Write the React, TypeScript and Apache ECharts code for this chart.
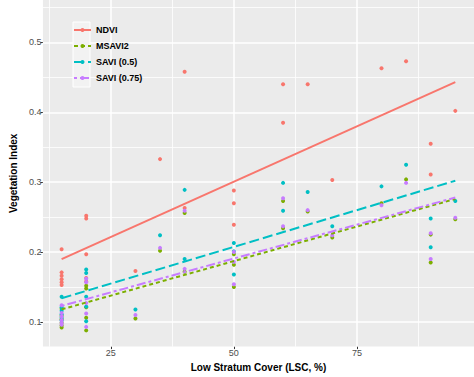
import React, { useEffect, useRef } from "react";
import * as echarts from "echarts";

const seriesNames = ["NDVI", "MSAVI2", "SAVI (0.5)", "SAVI (0.75)"];
const seriesColors = ["#F8766D", "#7CAE00", "#00BFC4", "#C77CFF"];

// Low stratum cover (%) of each site
const lsc = [
  15, 15, 15, 15, 15, 15,
  20, 20, 20, 20, 20,
  30, 35, 40, 40,
  50, 50, 50,
  60, 60, 65, 70, 80, 85, 90, 90, 95,
];
const ndvi = [
  0.204, 0.171, 0.166, 0.161, 0.157, 0.153,
  0.252, 0.248, 0.197, 0.163, 0.158,
  0.173, 0.333, 0.458, 0.263,
  0.288, 0.27, 0.239,
  0.44, 0.385, 0.44, 0.303, 0.463, 0.473, 0.355, 0.311, 0.402,
];
const msavi2 = [
  0.119, 0.109, 0.104, 0.099, 0.095, 0.092,
  0.152, 0.148, 0.121, 0.106, 0.088,
  0.105, 0.202, 0.256, 0.172,
  0.197, 0.182, 0.15,
  0.273, 0.234, 0.258, 0.221, 0.27, 0.304, 0.225, 0.185, 0.247,
];
const savi05 = [
  0.136, 0.121, 0.116, 0.111, 0.106, 0.102,
  0.175, 0.17, 0.136, 0.122, 0.101,
  0.118, 0.224, 0.289, 0.19,
  0.213, 0.201, 0.168,
  0.299, 0.259, 0.286, 0.237, 0.294, 0.325, 0.248, 0.207, 0.273,
];
const savi075 = [
  0.124, 0.113, 0.108, 0.103, 0.099, 0.096,
  0.162, 0.157, 0.127, 0.112, 0.093,
  0.11, 0.206, 0.259, 0.176,
  0.2, 0.186, 0.154,
  0.277, 0.237, 0.26, 0.224, 0.267, 0.299, 0.227, 0.19, 0.249,
];

// Linear fits (end points)
const fitX = [15, 95];
const ndviFit = [0.19, 0.443];
const msavi2Fit = [0.118, 0.276];
const savi05Fit = [0.134, 0.302];
const savi075Fit = [0.123, 0.278];

// Axes
const xMin = 11.2;
const xMax = 98.8;
const yMin = 0.0648;
const yMax = 0.5606;
const xTicks = [25, 50, 75];
const xMinor = [12.5, 37.5, 62.5, 87.5];
const yTicks = [0.1, 0.2, 0.3, 0.4, 0.5];
const yMinor = [0.15, 0.25, 0.35, 0.45, 0.55];

const FONT = "'Liberation Sans', Arial, sans-serif";

export default function App() {
  const ref = useRef<HTMLDivElement>(null);

  useEffect(() => {
    if (!ref.current) return;
    const chart = echarts.init(ref.current, undefined, { renderer: "svg" });

    const pointValues = [ndvi, msavi2, savi05, savi075];
    const fitValues = [ndviFit, msavi2Fit, savi05Fit, savi075Fit];
    const dashTypes: any[] = ["solid", [4, 3], [10, 4], [3, 3, 9, 3]];

    const lineSeries = seriesNames.map((name, i) => ({
      type: "line",
      name,
      data: fitX.map((x, k) => [x, fitValues[i][k]]),
      symbol: "none",
      z: 4,
      silent: true,
      lineStyle: { color: seriesColors[i], width: 2, type: dashTypes[i] },
      itemStyle: { color: seriesColors[i] },
    }));

    const scatterSeries = seriesNames.map((name, i) => ({
      type: "scatter",
      name,
      data: lsc.map((x, k) => [x, pointValues[i][k]]),
      symbolSize: 4,
      z: 3,
      silent: true,
      itemStyle: { color: seriesColors[i], opacity: 1 },
    }));

    const gridLineData = [
      ...xTicks.map((v) => ({ xAxis: v, lineStyle: { width: 1.5 } })),
      ...xMinor.map((v) => ({ xAxis: v, lineStyle: { width: 0.8 } })),
      ...yTicks.map((v) => ({ yAxis: v, lineStyle: { width: 1.5 } })),
      ...yMinor.map((v) => ({ yAxis: v, lineStyle: { width: 0.8 } })),
    ];

    const gridSeries = {
      type: "scatter",
      name: "grid",
      data: [],
      silent: true,
      z: 1,
      markLine: {
        z: 1,
        silent: true,
        symbol: ["none", "none"],
        label: { show: false },
        lineStyle: { color: "#FFFFFF", type: "solid" },
        emphasis: { disabled: true },
        data: gridLineData,
      },
    };

    chart.setOption({
      animation: false,
      textStyle: { fontFamily: FONT },
      grid: {
        left: 30,
        right: 0,
        top: 0,
        bottom: 25,
        show: true,
        backgroundColor: "#EBEBEB",
        borderWidth: 0,
      },
      legend: {
        orient: "vertical",
        left: 73,
        top: 24,
        padding: 0,
        itemWidth: 17,
        itemHeight: 5,
        itemGap: 4,
        selectedMode: false,
        data: seriesNames,
        textStyle: {
          fontFamily: FONT,
          fontSize: 9,
          fontWeight: "bold",
          color: "#000000",
          lineHeight: 12,
        },
      },
      graphic: [
        {
          type: "rect",
          z: 3,
          shape: { x: 73, y: 22, width: 17, height: 65 },
          style: { fill: "#F2F2F2", stroke: "#FFFFFF", lineWidth: 1 },
          silent: true,
        },
      ],
      xAxis: {
        type: "value",
        min: xMin,
        max: xMax,
        name: "Low Stratum Cover (LSC, %)",
        nameLocation: "middle",
        nameGap: 12,
        nameTextStyle: { fontFamily: FONT, fontSize: 10, fontWeight: "bold", color: "#000000" },
        axisLine: { show: false },
        axisTick: { show: true, customValues: xTicks, length: 2.5, lineStyle: { color: "#333333", width: 1 } },
        axisLabel: {
          customValues: xTicks,
          margin: 1.5,
          fontSize: 9,
          color: "#4D4D4D",
          fontFamily: FONT,
          formatter: (v: number) => String(v),
        },
        splitLine: { show: false },
      },
      yAxis: {
        type: "value",
        min: yMin,
        max: yMax,
        name: "Vegetation Index",
        nameLocation: "middle",
        nameGap: 19,
        nameRotate: 90,
        nameTextStyle: { fontFamily: FONT, fontSize: 10, fontWeight: "bold", color: "#000000" },
        axisLine: { show: false },
        axisTick: { show: true, customValues: yTicks, length: 2.5, lineStyle: { color: "#333333", width: 1 } },
        axisLabel: {
          customValues: yTicks,
          margin: 1.5,
          fontSize: 9,
          color: "#4D4D4D",
          fontFamily: FONT,
          formatter: (v: number) => v.toFixed(1),
        },
        splitLine: { show: false },
      },
      series: [...lineSeries, ...scatterSeries, gridSeries],
    } as any);

    return () => chart.dispose();
  }, []);

  return (
    <div
      ref={ref}
      style={{ position: "fixed", left: 0, top: 0, width: 474, height: 377, background: "#FFFFFF" }}
    />
  );
}
